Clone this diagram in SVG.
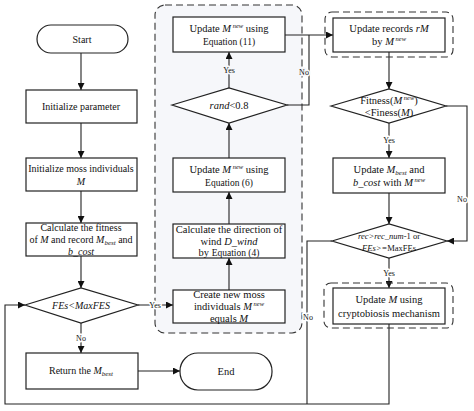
<svg xmlns="http://www.w3.org/2000/svg" width="474" height="411" viewBox="0 0 474 411" font-family="'Liberation Serif', 'Times New Roman', Tinos, serif">
<defs>
<marker id="ah" viewBox="0 0 10 10" refX="10" refY="5" markerWidth="7" markerHeight="7" markerUnits="userSpaceOnUse" orient="auto">
<path d="M0,0 L10,5 L0,10 z" fill="#111"/>
</marker>
<style>
.box{fill:#fff;stroke:#222;stroke-width:1.2}
.dash{fill:none;stroke:#333;stroke-width:1.1;stroke-dasharray:7 4}
.ln{fill:none;stroke:#222;stroke-width:1.1}
.ar{fill:none;stroke:#222;stroke-width:1.1;marker-end:url(#ah)}
text{font-family:'Liberation Serif','Times New Roman',Tinos,serif;font-size:10.5px;fill:#111;text-anchor:middle}
.lc{font-size:10px}
.eq{font-size:9.5px}
.sm{font-size:8.5px}
.lbl{font-size:8px;stroke:#fff;stroke-width:3px;paint-order:stroke;stroke-linejoin:round}
.lbl2{font-size:8px;stroke:#f6f7fa;stroke-width:3px;paint-order:stroke;stroke-linejoin:round}
.it{font-style:italic}
.sup{font-size:6.5px;font-style:italic}
</style>
</defs>
<rect width="474" height="411" fill="#fff"/>

<g id="container">
<rect x="155" y="5" width="147" height="328" rx="10" fill="#f6f7fa" stroke="#333" stroke-width="1.1" stroke-dasharray="7 4"/>
</g>

<g id="connectors">
<path class="ar" d="M81,53 V90"/>
<path class="ar" d="M81,123 V158"/>
<path class="ar" d="M81,191 V223"/>
<path class="ar" d="M81,256 V288"/>
<path class="ar" d="M81,323 V353"/>
<path class="ar" d="M138,371 H180"/>
<path class="ar" d="M138,305 H173"/>
<path class="ar" d="M229,290 V258"/>
<path class="ar" d="M229,224 V192"/>
<path class="ar" d="M229,158 V123"/>
<path class="ar" d="M229,88 V52"/>
<path class="ar" d="M285,35 H333"/>
<path class="ln" d="M287,105 H309 V35"/>
<path class="ar" d="M389,52 V89"/>
<path class="ar" d="M389,123 V158"/>
<path class="ar" d="M389,193 V224"/>
<path class="ar" d="M446,106 H467 V241 H447"/>
<path class="ar" d="M389,258 V288"/>
<path class="ar" d="M389,324 V404 H5 V305 H25"/>
<path class="ln" d="M332,241 H307 V404"/>
</g>

<g id="labels">
<text class="lbl" x="81" y="341">No</text>
<text class="lbl" x="155" y="308">Yes</text>
<text class="lbl2" x="229" y="73">Yes</text>
<text class="lbl2" x="304" y="75">No</text>
<text class="lbl" x="389" y="143">Yes</text>
<text class="lbl" x="462" y="202">No</text>
<text class="lbl" x="389" y="276">Yes</text>
<text class="lbl" x="308" y="320">No</text>
</g>

<g id="start">
<rect class="box" x="37" y="25" width="91" height="28" rx="14"/>
<text class="lc" x="82" y="43">Start</text>
</g>

<g id="init-param">
<rect class="box" x="26" y="90" width="111" height="33"/>
<text class="lc" x="81" y="110">Initialize parameter</text>
</g>

<g id="init-moss">
<rect class="box" x="26" y="158" width="111" height="33"/>
<text class="lc" x="81" y="172">Initialize moss individuals</text>
<text x="81" y="185" class="lc it">M</text>
</g>

<g id="calc-fitness">
<rect class="box" x="26" y="223" width="111" height="33"/>
<text class="lc" x="81" y="231">Calculate the fitness</text>
<text class="lc" x="81" y="243">of <tspan class="it">M</tspan> and record <tspan class="it">M</tspan><tspan class="it" font-size="7" dy="2">best</tspan><tspan dy="-2"> and</tspan></text>
<text x="81" y="255" class="lc it">b_cost</text>
</g>

<g id="fes-decision">
<polygon class="box" points="25,305 81,288 138,305 81,323"/>
<text x="81" y="309" class="lc it">FEs&lt;MaxFES</text>
</g>

<g id="return">
<rect class="box" x="26" y="353" width="112" height="36"/>
<text class="lc" x="81" y="374">Return the <tspan class="it">M</tspan><tspan class="it" font-size="7" dy="2">best</tspan></text>
</g>

<g id="end">
<rect class="box" x="180" y="353" width="92" height="37" rx="18"/>
<text x="226" y="375">End</text>
</g>

<g id="update-11">
<rect class="box" x="173" y="17" width="112" height="35"/>
<text x="229" y="32">Update <tspan class="it">M</tspan><tspan class="sup" dy="-4"> new</tspan><tspan dy="4"> using</tspan></text>
<text x="229" y="45" class="eq">Equation (11)</text>
</g>

<g id="rand-decision">
<polygon class="box" points="172,105 229,88 287,105 229,123"/>
<text x="229" y="109"><tspan class="it">rand</tspan>&lt;0.8</text>
</g>

<g id="update-6">
<rect class="box" x="173" y="158" width="112" height="34"/>
<text x="229" y="173">Update <tspan class="it">M</tspan><tspan class="sup" dy="-4"> new</tspan><tspan dy="4"> using</tspan></text>
<text x="229" y="186" class="eq">Equation (6)</text>
</g>

<g id="calc-wind">
<rect class="box" x="173" y="224" width="112" height="34"/>
<text x="229" y="233">Calculate the direction of</text>
<text x="229" y="245">wind <tspan class="it">D_wind</tspan></text>
<text x="229" y="256">by <tspan class="eq">Equation (4)</tspan></text>
</g>

<g id="create-new">
<rect class="box" x="173" y="290" width="112" height="33"/>
<text x="229" y="298">Create new moss</text>
<text x="229" y="310">individuals <tspan class="it">M</tspan><tspan class="sup" dy="-4"> new</tspan></text>
<text x="229" y="322">equals <tspan class="it">M</tspan></text>
</g>

<g id="update-records">
<rect class="dash" x="325" y="12" width="128" height="45" rx="7"/>
<rect class="box" x="333" y="18" width="112" height="34"/>
<text x="389" y="32">Update records <tspan class="it">rM</tspan></text>
<text x="389" y="45">by <tspan class="it">M</tspan><tspan class="sup" dy="-4"> new</tspan></text>
</g>

<g id="fitness-decision">
<polygon class="box" points="331,106 389,89 446,106 389,123"/>
<text x="389" y="104">Fitness(<tspan class="it">M</tspan><tspan class="sup" dy="-4"> new</tspan><tspan dy="4">)</tspan></text>
<text x="389" y="116">&lt;Finess(<tspan class="it">M</tspan>)</text>
</g>

<g id="update-best">
<rect class="box" x="333" y="158" width="112" height="35"/>
<text x="389" y="173">Update <tspan class="it">M</tspan><tspan class="it" font-size="7" dy="2">best</tspan><tspan dy="-2"> and</tspan></text>
<text x="389" y="186"><tspan class="it">b_cost</tspan> with <tspan class="it">M</tspan><tspan class="sup" dy="-4"> new</tspan></text>
</g>

<g id="rec-decision">
<polygon class="box" points="332,241 389,224 447,241 389,258"/>
<text x="389" y="239" class="sm"><tspan class="it">rec&gt;rec_num</tspan>-1 or</text>
<text x="389" y="251" class="sm"><tspan class="it">FEs&gt;=</tspan>MaxFEs</text>
</g>

<g id="cryptobiosis">
<rect class="dash" x="324" y="283" width="129" height="45" rx="7"/>
<rect class="box" x="333" y="288" width="112" height="36"/>
<text x="389" y="303">Update <tspan class="it">M</tspan> using</text>
<text x="389" y="317">cryptobiosis mechanism</text>
</g>
</svg>
